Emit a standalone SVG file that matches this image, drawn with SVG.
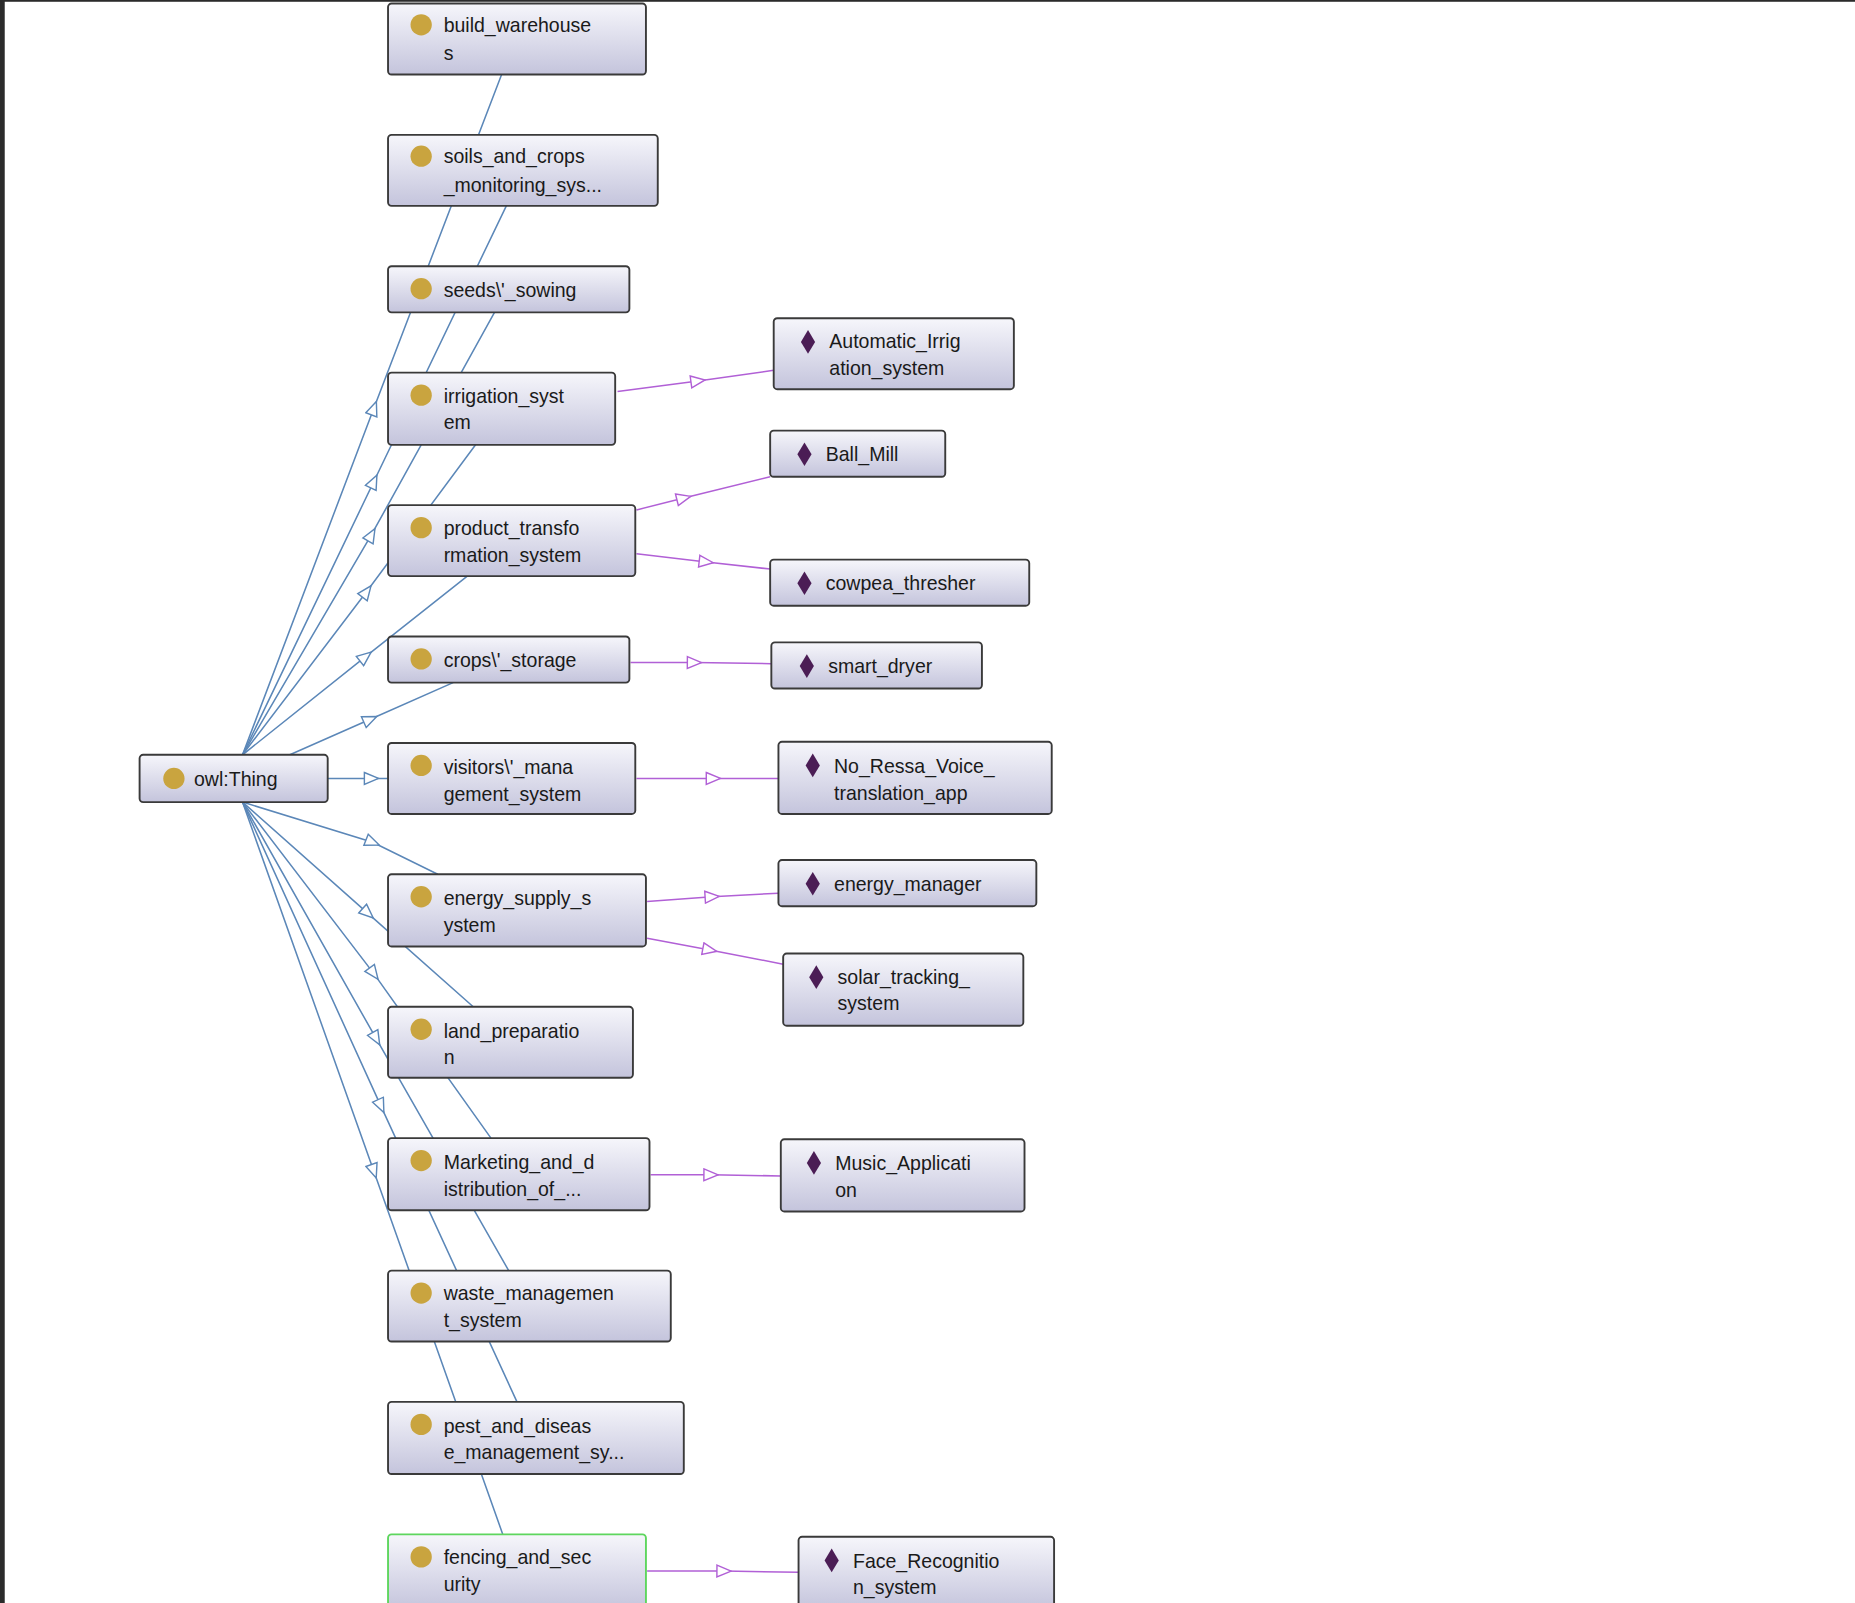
<svg xmlns="http://www.w3.org/2000/svg" width="1855" height="1603" viewBox="0 0 1855 1603">
<defs>
<linearGradient id="g" x1="0" y1="0" x2="0" y2="1"><stop offset="0" stop-color="#f6f6fb"/><stop offset="1" stop-color="#c4c4dc"/></linearGradient>
<marker id="ab" viewBox="0 0 14 12" refX="7" refY="6" markerWidth="14" markerHeight="12" markerUnits="userSpaceOnUse" orient="auto"><path d="M1,1 L13,6 L1,11 Z" fill="#fff" stroke="#5b87b8" stroke-width="1.2"/></marker>
<marker id="ap" viewBox="0 0 14 12" refX="7" refY="6" markerWidth="14" markerHeight="12" markerUnits="userSpaceOnUse" orient="auto"><path d="M1,1 L13,6 L1,11 Z" fill="#fff" stroke="#b160d6" stroke-width="1.2"/></marker>
</defs>
<style>
.n rect{fill:url(#g);stroke:#3a3a3a;stroke-width:1.6}
.n text{font-family:"Liberation Sans",Arial,sans-serif;font-size:16.5px;fill:#1a1a1a}
.c{fill:#c9a43f}
.d{fill:#4b1d55}
.b{fill:none;stroke:#5b87b8;stroke-width:1.3;marker-mid:url(#ab)}
.p{fill:none;stroke:#b160d6;stroke-width:1.3;marker-mid:url(#ap)}
</style>
<rect width="1855" height="1603" fill="#fff"/>
<g transform="scale(1.18304)">
<rect x="0" y="0" width="4" height="1355" fill="#2b2b2b"/>
<rect x="0" y="0" width="1568" height="1.5" fill="#2b2b2b"/>
<g id="connectors">
<polyline class="b" points="205,638 316,345 424,63"/>
<polyline class="b" points="205,638 316,407 428,174"/>
<polyline class="b" points="205,638 314,452 418,264"/>
<polyline class="b" points="205,638 310,500 402,376"/>
<polyline class="b" points="205,638 309,555 395,487"/>
<polyline class="b" points="245,638 313,608 383,577"/>
<polyline class="b" points="277,658 314,658 328,658"/>
<polyline class="b" points="205,678 315,712 370,739"/>
<polyline class="b" points="205,678 311,772 400,851"/>
<polyline class="b" points="205,678 316,823 415,962"/>
<polyline class="b" points="205,678 318,878 430,1074"/>
<polyline class="b" points="205,678 322,935 437,1185"/>
<polyline class="b" points="205,678 316,990 425,1297"/>
<polyline class="p" points="522,331 590,322 654,313"/>
<polyline class="p" points="538,431 578,421 651,403"/>
<polyline class="p" points="538,468 597,475 651,481"/>
<polyline class="p" points="533,560 587,560 652,561"/>
<polyline class="p" points="538,658 603,658 658,658"/>
<polyline class="p" points="547,762 602,758 658,755"/>
<polyline class="p" points="547,793 600,803 662,815"/>
<polyline class="p" points="550,993 601,993 660,994"/>
<polyline class="p" points="547,1328 612,1328 675,1329"/>
</g>
<g id="owl_Thing" class="n"><rect x="118" y="638" width="159" height="40" rx="3"/><circle class="c" cx="147" cy="658" r="9"/><text x="164" y="664">owl:Thing</text></g>
<g id="build_warehouses" class="n"><rect x="328" y="3" width="218" height="60" rx="3"/><circle class="c" cx="356" cy="21" r="9"/><text x="375" y="27">build_warehouse</text><text x="375" y="51">s</text></g>
<g id="soils_and_crops" class="n"><rect x="328" y="114" width="228" height="60" rx="3"/><circle class="c" cx="356" cy="132" r="9"/><text x="375" y="138">soils_and_crops</text><text x="375" y="162">_monitoring_sys...</text></g>
<g id="seeds_sowing" class="n"><rect x="328" y="225" width="204" height="39" rx="3"/><circle class="c" cx="356" cy="244" r="9"/><text x="375" y="251">seeds\'_sowing</text></g>
<g id="irrigation_system" class="n"><rect x="328" y="315" width="192" height="61" rx="3"/><circle class="c" cx="356" cy="334" r="9"/><text x="375" y="341">irrigation_syst</text><text x="375" y="363">em</text></g>
<g id="product_transformation" class="n"><rect x="328" y="427" width="209" height="60" rx="3"/><circle class="c" cx="356" cy="446" r="9"/><text x="375" y="452">product_transfo</text><text x="375" y="475">rmation_system</text></g>
<g id="crops_storage" class="n"><rect x="328" y="538" width="204" height="39" rx="3"/><circle class="c" cx="356" cy="557" r="9"/><text x="375" y="564">crops\'_storage</text></g>
<g id="visitors_management" class="n"><rect x="328" y="628" width="209" height="60" rx="3"/><circle class="c" cx="356" cy="647" r="9"/><text x="375" y="654">visitors\'_mana</text><text x="375" y="677">gement_system</text></g>
<g id="energy_supply" class="n"><rect x="328" y="739" width="218" height="61" rx="3"/><circle class="c" cx="356" cy="758" r="9"/><text x="375" y="765">energy_supply_s</text><text x="375" y="788">ystem</text></g>
<g id="land_preparation" class="n"><rect x="328" y="851" width="207" height="60" rx="3"/><circle class="c" cx="356" cy="870" r="9"/><text x="375" y="877">land_preparatio</text><text x="375" y="899">n</text></g>
<g id="marketing" class="n"><rect x="328" y="962" width="221" height="61" rx="3"/><circle class="c" cx="356" cy="981" r="9"/><text x="375" y="988">Marketing_and_d</text><text x="375" y="1011">istribution_of_...</text></g>
<g id="waste_management" class="n"><rect x="328" y="1074" width="239" height="60" rx="3"/><circle class="c" cx="356" cy="1093" r="9"/><text x="375" y="1099">waste_managemen</text><text x="375" y="1122">t_system</text></g>
<g id="pest_disease" class="n"><rect x="328" y="1185" width="250" height="61" rx="3"/><circle class="c" cx="356" cy="1204" r="9"/><text x="375" y="1211">pest_and_diseas</text><text x="375" y="1233">e_management_sy...</text></g>
<g id="fencing_security" class="n"><rect x="328" y="1297" width="218" height="64" rx="3" style="stroke:#5ed65e"/><circle class="c" cx="356" cy="1316" r="9"/><text x="375" y="1322">fencing_and_sec</text><text x="375" y="1345">urity</text></g>
<g id="automatic_irrigation" class="n"><rect x="654" y="269" width="203" height="60" rx="3"/><path class="d" d="M683,279 L689,289 L683,299 L677,289 Z"/><text x="701" y="294">Automatic_Irrig</text><text x="701" y="317">ation_system</text></g>
<g id="ball_mill" class="n"><rect x="651" y="364" width="148" height="39" rx="3"/><path class="d" d="M680,374 L686,384 L680,394 L674,384 Z"/><text x="698" y="390">Ball_Mill</text></g>
<g id="cowpea_thresher" class="n"><rect x="651" y="473" width="219" height="39" rx="3"/><path class="d" d="M680,483 L686,493 L680,503 L674,493 Z"/><text x="698" y="499">cowpea_thresher</text></g>
<g id="smart_dryer" class="n"><rect x="652" y="543" width="178" height="39" rx="3"/><path class="d" d="M682,553 L688,563 L682,573 L676,563 Z"/><text x="700" y="569">smart_dryer</text></g>
<g id="no_ressa" class="n"><rect x="658" y="627" width="231" height="61" rx="3"/><path class="d" d="M687,637 L693,647 L687,657 L681,647 Z"/><text x="705" y="653">No_Ressa_Voice_</text><text x="705" y="676">translation_app</text></g>
<g id="energy_manager" class="n"><rect x="658" y="727" width="218" height="39" rx="3"/><path class="d" d="M687,737 L693,747 L687,757 L681,747 Z"/><text x="705" y="753">energy_manager</text></g>
<g id="solar_tracking" class="n"><rect x="662" y="806" width="203" height="61" rx="3"/><path class="d" d="M690,816 L696,826 L690,836 L684,826 Z"/><text x="708" y="832">solar_tracking_</text><text x="708" y="854">system</text></g>
<g id="music_application" class="n"><rect x="660" y="963" width="206" height="61" rx="3"/><path class="d" d="M688,973 L694,983 L688,993 L682,983 Z"/><text x="706" y="989">Music_Applicati</text><text x="706" y="1012">on</text></g>
<g id="face_recognition" class="n"><rect x="675" y="1299" width="216" height="62" rx="3"/><path class="d" d="M703,1309 L709,1319 L703,1329 L697,1319 Z"/><text x="721" y="1325">Face_Recognitio</text><text x="721" y="1347">n_system</text></g>
</g>
</svg>
